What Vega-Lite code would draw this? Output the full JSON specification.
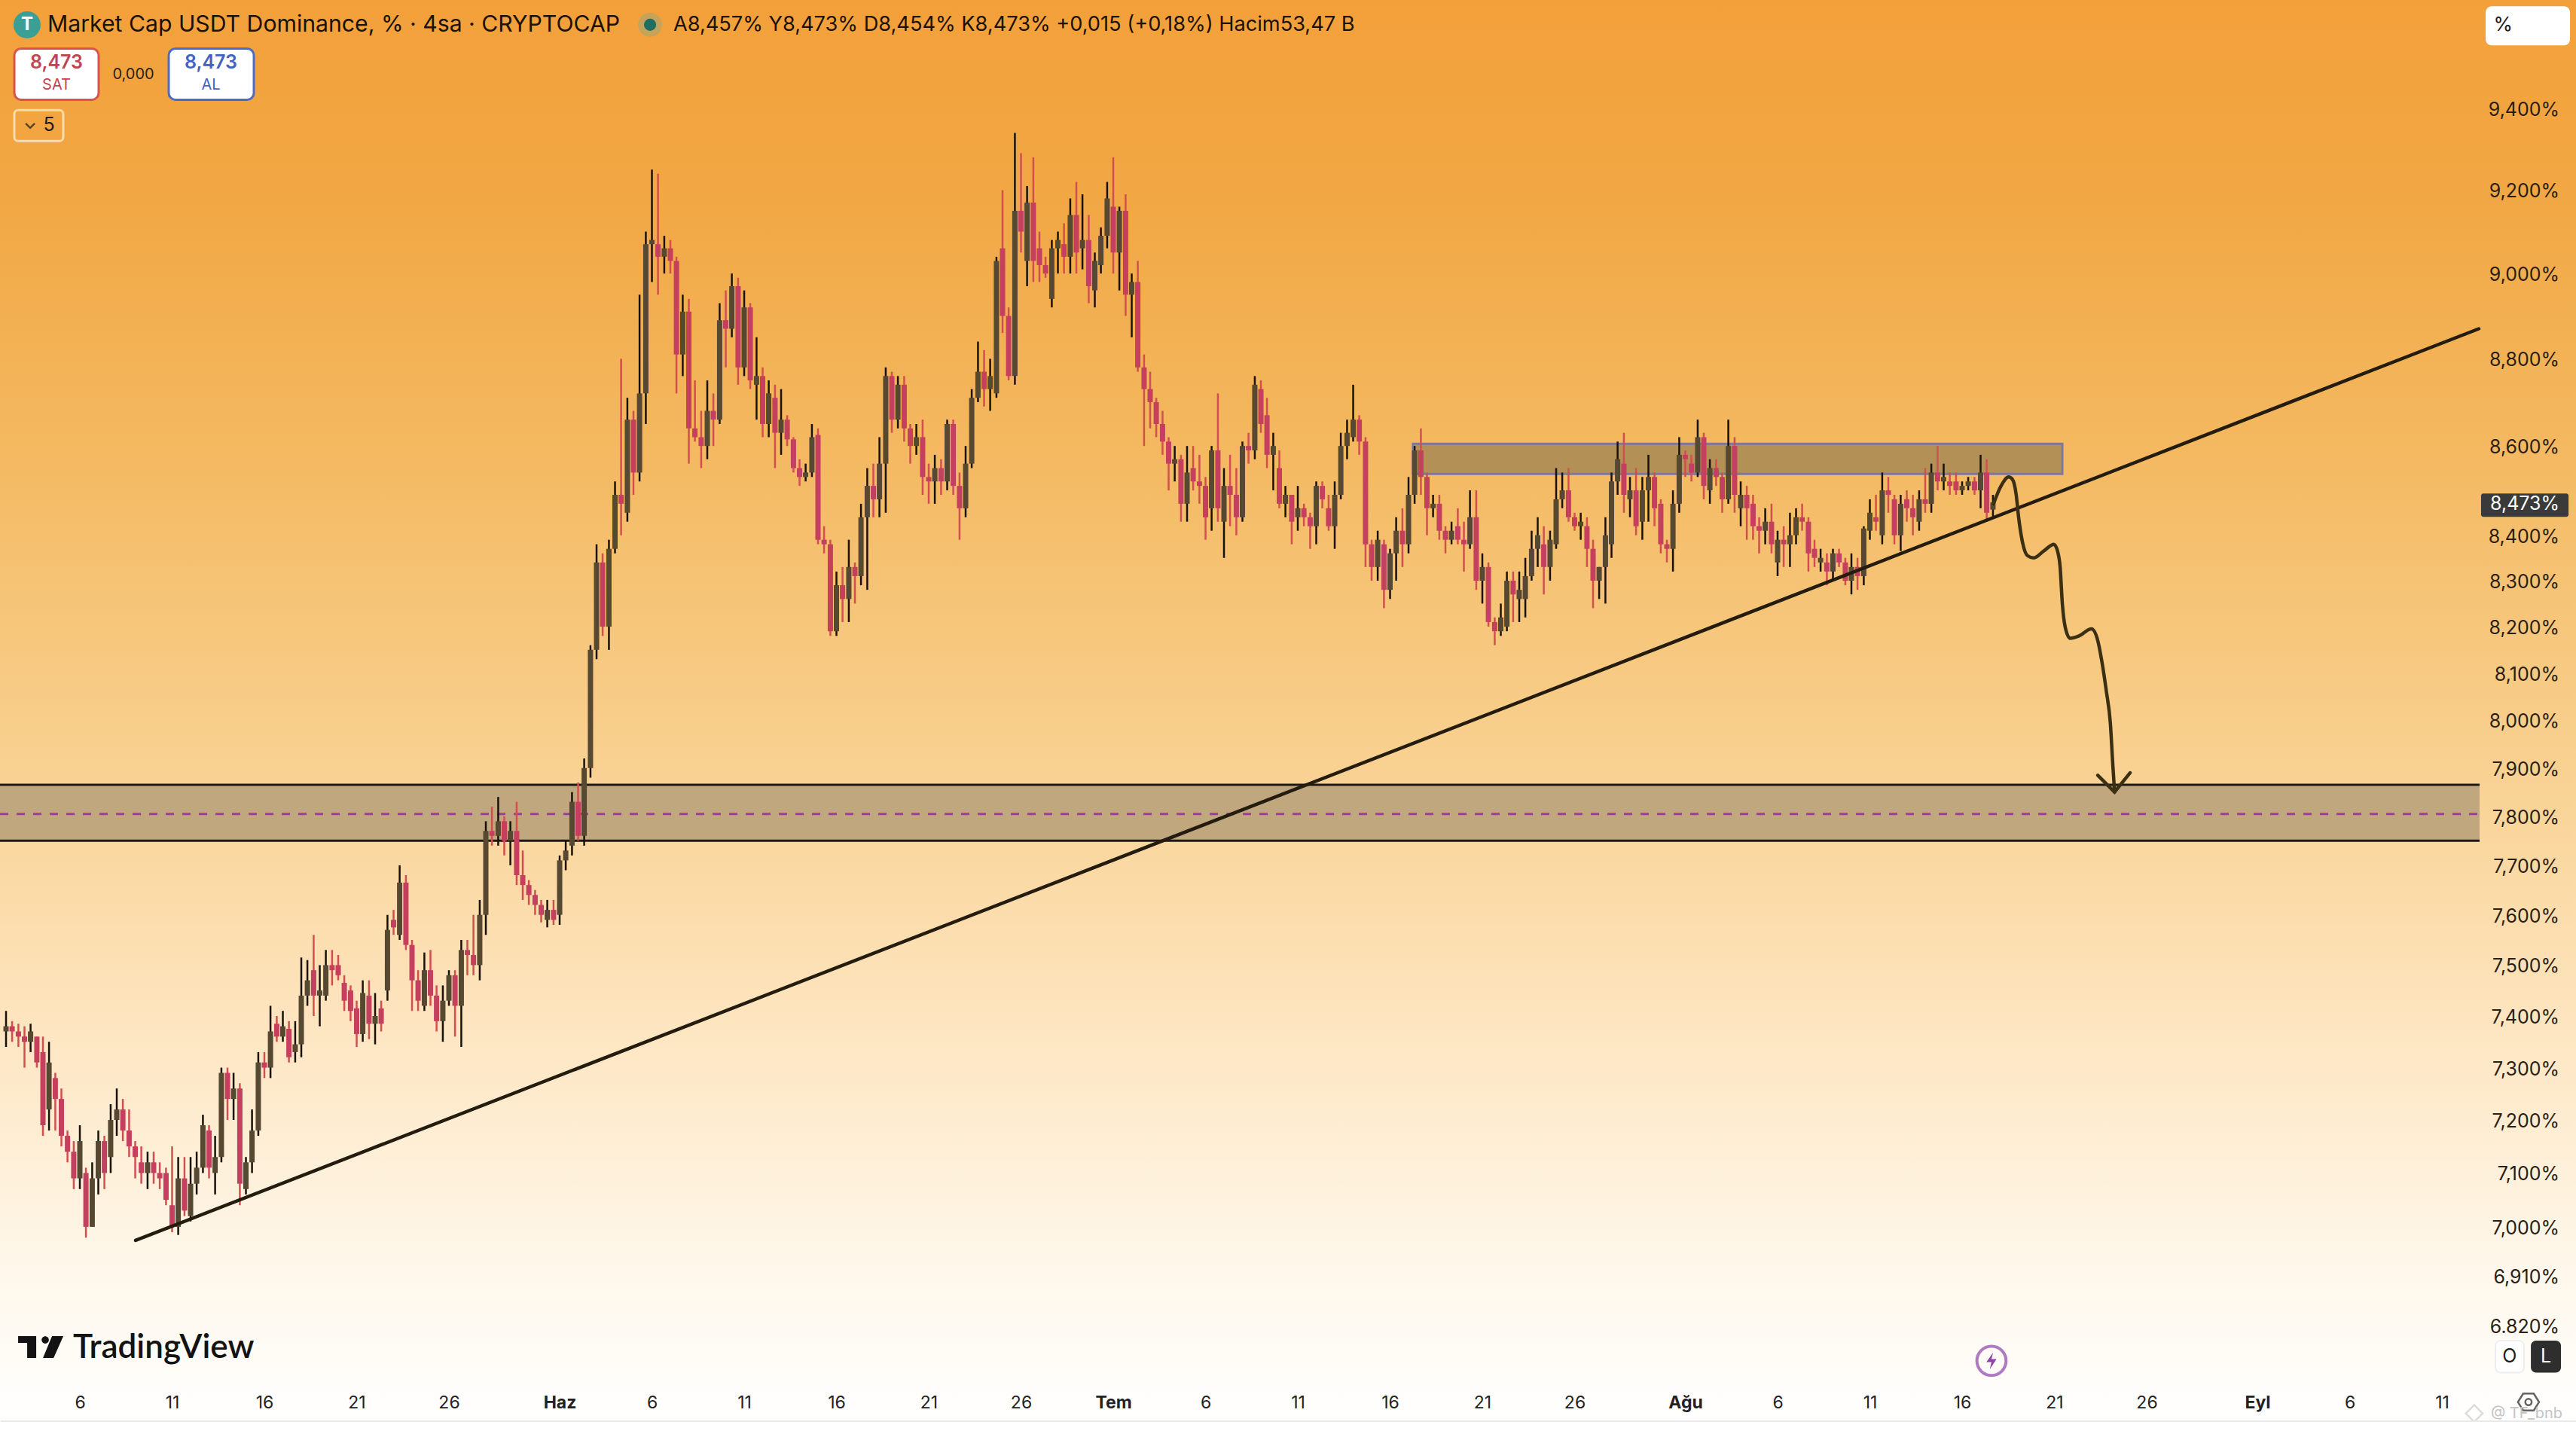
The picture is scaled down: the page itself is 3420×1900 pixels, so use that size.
{
"$schema":"https://vega.github.io/schema/vega-lite/v6.json",
"width":3420,"height":1888,"padding":0,"autosize":{"type":"none"},"background":"#ffffff",
"config":{"view":{"stroke":null},"text":{"font":"Inter"}},
"datasets":{"candles":[
{"d":2,"o":7.37,"h":7.41,"l":7.34,"c":7.38},{"d":2.33,"o":7.38,"h":7.39,"l":7.35,"c":7.37},{"d":2.67,"o":7.37,"h":7.385,"l":7.34,"c":7.36},
{"d":3,"o":7.36,"h":7.38,"l":7.3,"c":7.35},{"d":3.33,"o":7.35,"h":7.385,"l":7.33,"c":7.37},{"d":3.67,"o":7.36,"h":7.36,"l":7.3,"c":7.31},
{"d":4,"o":7.33,"h":7.36,"l":7.17,"c":7.19},{"d":4.33,"o":7.22,"h":7.35,"l":7.18,"c":7.31},{"d":4.67,"o":7.28,"h":7.29,"l":7.18,"c":7.24},
{"d":5,"o":7.24,"h":7.26,"l":7.15,"c":7.17},{"d":5.33,"o":7.17,"h":7.18,"l":7.12,"c":7.14},{"d":5.67,"o":7.14,"h":7.16,"l":7.07,"c":7.09},
{"d":6,"o":7.09,"h":7.19,"l":7.07,"c":7.16},{"d":6.33,"o":7.1,"h":7.11,"l":6.98,"c":7},{"d":6.67,"o":7,"h":7.12,"l":7,"c":7.09},
{"d":7,"o":7.09,"h":7.18,"l":7.06,"c":7.16},{"d":7.33,"o":7.16,"h":7.17,"l":7.07,"c":7.1},{"d":7.67,"o":7.13,"h":7.23,"l":7.1,"c":7.2},
{"d":8,"o":7.2,"h":7.26,"l":7.17,"c":7.22},{"d":8.33,"o":7.22,"h":7.24,"l":7.16,"c":7.18},{"d":8.67,"o":7.18,"h":7.22,"l":7.13,"c":7.15},
{"d":9,"o":7.15,"h":7.16,"l":7.09,"c":7.13},{"d":9.33,"o":7.12,"h":7.15,"l":7.08,"c":7.1},{"d":9.67,"o":7.1,"h":7.14,"l":7.07,"c":7.12},
{"d":10,"o":7.12,"h":7.14,"l":7.08,"c":7.1},{"d":10.33,"o":7.1,"h":7.12,"l":7.07,"c":7.09},{"d":10.67,"o":7.1,"h":7.11,"l":7.04,"c":7.05},
{"d":11,"o":7.04,"h":7.15,"l":6.99,"c":7},{"d":11.33,"o":7,"h":7.13,"l":6.985,"c":7.09},{"d":11.67,"o":7.09,"h":7.13,"l":7.02,"c":7.03},
{"d":12,"o":7.02,"h":7.13,"l":7.01,"c":7.08},{"d":12.33,"o":7.08,"h":7.14,"l":7.06,"c":7.11},{"d":12.67,"o":7.11,"h":7.21,"l":7.1,"c":7.19},
{"d":13,"o":7.18,"h":7.19,"l":7.09,"c":7.11},{"d":13.33,"o":7.1,"h":7.17,"l":7.06,"c":7.13},{"d":13.67,"o":7.13,"h":7.3,"l":7.12,"c":7.29},
{"d":14,"o":7.29,"h":7.3,"l":7.2,"c":7.24},{"d":14.33,"o":7.24,"h":7.29,"l":7.2,"c":7.26},{"d":14.67,"o":7.26,"h":7.27,"l":7.04,"c":7.08},
{"d":15,"o":7.07,"h":7.13,"l":7.06,"c":7.12},{"d":15.33,"o":7.12,"h":7.22,"l":7.1,"c":7.18},{"d":15.67,"o":7.18,"h":7.33,"l":7.17,"c":7.31},
{"d":16,"o":7.31,"h":7.33,"l":7.28,"c":7.3},{"d":16.33,"o":7.3,"h":7.42,"l":7.28,"c":7.37},{"d":16.67,"o":7.385,"h":7.4,"l":7.35,"c":7.36},
{"d":17,"o":7.36,"h":7.41,"l":7.35,"c":7.38},{"d":17.33,"o":7.375,"h":7.39,"l":7.31,"c":7.32},{"d":17.67,"o":7.33,"h":7.39,"l":7.31,"c":7.345},
{"d":18,"o":7.345,"h":7.515,"l":7.32,"c":7.44},{"d":18.33,"o":7.44,"h":7.51,"l":7.42,"c":7.47},{"d":18.67,"o":7.49,"h":7.56,"l":7.4,"c":7.44},
{"d":19,"o":7.44,"h":7.5,"l":7.38,"c":7.45},{"d":19.33,"o":7.44,"h":7.53,"l":7.43,"c":7.5},{"d":19.67,"o":7.5,"h":7.53,"l":7.46,"c":7.49},
{"d":20,"o":7.5,"h":7.52,"l":7.47,"c":7.48},{"d":20.33,"o":7.465,"h":7.48,"l":7.41,"c":7.43},{"d":20.67,"o":7.45,"h":7.46,"l":7.39,"c":7.41},
{"d":21,"o":7.415,"h":7.43,"l":7.34,"c":7.365},{"d":21.33,"o":7.365,"h":7.47,"l":7.35,"c":7.445},{"d":21.67,"o":7.44,"h":7.47,"l":7.355,"c":7.385},
{"d":22,"o":7.385,"h":7.445,"l":7.345,"c":7.4},{"d":22.33,"o":7.415,"h":7.43,"l":7.37,"c":7.385},{"d":22.67,"o":7.45,"h":7.6,"l":7.43,"c":7.57},
{"d":23,"o":7.59,"h":7.61,"l":7.56,"c":7.575},{"d":23.33,"o":7.56,"h":7.7,"l":7.55,"c":7.665},{"d":23.67,"o":7.665,"h":7.68,"l":7.53,"c":7.54},
{"d":24,"o":7.54,"h":7.55,"l":7.41,"c":7.47},{"d":24.33,"o":7.47,"h":7.49,"l":7.41,"c":7.43},{"d":24.67,"o":7.42,"h":7.525,"l":7.41,"c":7.49},
{"d":25,"o":7.49,"h":7.53,"l":7.42,"c":7.44},{"d":25.33,"o":7.44,"h":7.46,"l":7.37,"c":7.39},{"d":25.67,"o":7.39,"h":7.46,"l":7.35,"c":7.43},
{"d":26,"o":7.43,"h":7.49,"l":7.42,"c":7.48},{"d":26.33,"o":7.48,"h":7.49,"l":7.36,"c":7.42},{"d":26.67,"o":7.42,"h":7.55,"l":7.34,"c":7.53},
{"d":27,"o":7.53,"h":7.55,"l":7.48,"c":7.52},{"d":27.33,"o":7.52,"h":7.6,"l":7.48,"c":7.5},{"d":27.67,"o":7.5,"h":7.63,"l":7.47,"c":7.6},
{"d":28,"o":7.6,"h":7.79,"l":7.56,"c":7.77},{"d":28.33,"o":7.77,"h":7.82,"l":7.74,"c":7.76},{"d":28.67,"o":7.76,"h":7.84,"l":7.74,"c":7.79},
{"d":29,"o":7.79,"h":7.8,"l":7.72,"c":7.75},{"d":29.33,"o":7.75,"h":7.79,"l":7.7,"c":7.77},{"d":29.67,"o":7.77,"h":7.83,"l":7.66,"c":7.68},
{"d":30,"o":7.68,"h":7.73,"l":7.63,"c":7.66},{"d":30.33,"o":7.66,"h":7.67,"l":7.62,"c":7.64},{"d":30.67,"o":7.64,"h":7.65,"l":7.6,"c":7.62},
{"d":31,"o":7.62,"h":7.63,"l":7.585,"c":7.6},{"d":31.33,"o":7.59,"h":7.63,"l":7.575,"c":7.61},{"d":31.67,"o":7.61,"h":7.63,"l":7.58,"c":7.59},
{"d":32,"o":7.6,"h":7.72,"l":7.58,"c":7.71},{"d":32.33,"o":7.71,"h":7.75,"l":7.69,"c":7.73},{"d":32.67,"o":7.74,"h":7.85,"l":7.72,"c":7.83},
{"d":33,"o":7.83,"h":7.87,"l":7.75,"c":7.76},{"d":33.33,"o":7.76,"h":7.92,"l":7.74,"c":7.9},{"d":33.67,"o":7.9,"h":8.16,"l":7.88,"c":8.15},
{"d":34,"o":8.15,"h":8.38,"l":8.13,"c":8.34},{"d":34.33,"o":8.34,"h":8.36,"l":8.18,"c":8.2},{"d":34.67,"o":8.2,"h":8.39,"l":8.15,"c":8.37},
{"d":35,"o":8.37,"h":8.52,"l":8.36,"c":8.49},{"d":35.33,"o":8.49,"h":8.8,"l":8.4,"c":8.47},{"d":35.67,"o":8.45,"h":8.71,"l":8.43,"c":8.66},
{"d":36,"o":8.66,"h":8.68,"l":8.49,"c":8.54},{"d":36.33,"o":8.54,"h":8.95,"l":8.52,"c":8.72},{"d":36.67,"o":8.72,"h":9.1,"l":8.65,"c":9.07},
{"d":37,"o":9.07,"h":9.25,"l":8.98,"c":9.08},{"d":37.33,"o":9.07,"h":9.24,"l":8.95,"c":9.04},{"d":37.67,"o":9.04,"h":9.09,"l":9,"c":9.06},
{"d":38,"o":9.06,"h":9.08,"l":9,"c":9.03},{"d":38.33,"o":9.03,"h":9.04,"l":8.72,"c":8.81},{"d":38.67,"o":8.81,"h":8.95,"l":8.76,"c":8.91},
{"d":39,"o":8.91,"h":8.94,"l":8.56,"c":8.64},{"d":39.33,"o":8.64,"h":8.75,"l":8.61,"c":8.62},{"d":39.67,"o":8.62,"h":8.68,"l":8.55,"c":8.6},
{"d":40,"o":8.6,"h":8.75,"l":8.57,"c":8.68},{"d":40.33,"o":8.68,"h":8.72,"l":8.6,"c":8.66},{"d":40.67,"o":8.66,"h":8.93,"l":8.65,"c":8.89},
{"d":41,"o":8.89,"h":8.96,"l":8.78,"c":8.87},{"d":41.33,"o":8.87,"h":9,"l":8.85,"c":8.97},{"d":41.67,"o":8.97,"h":8.99,"l":8.74,"c":8.78},
{"d":42,"o":8.78,"h":8.96,"l":8.76,"c":8.92},{"d":42.33,"o":8.92,"h":8.93,"l":8.73,"c":8.75},{"d":42.67,"o":8.74,"h":8.85,"l":8.66,"c":8.76},
{"d":43,"o":8.76,"h":8.78,"l":8.62,"c":8.65},{"d":43.33,"o":8.65,"h":8.75,"l":8.62,"c":8.72},{"d":43.67,"o":8.71,"h":8.74,"l":8.55,"c":8.63},
{"d":44,"o":8.63,"h":8.73,"l":8.58,"c":8.66},{"d":44.33,"o":8.66,"h":8.67,"l":8.6,"c":8.615},{"d":44.67,"o":8.615,"h":8.62,"l":8.54,"c":8.55},
{"d":45,"o":8.55,"h":8.57,"l":8.51,"c":8.53},{"d":45.33,"o":8.53,"h":8.56,"l":8.52,"c":8.54},{"d":45.67,"o":8.54,"h":8.65,"l":8.53,"c":8.62},
{"d":46,"o":8.625,"h":8.64,"l":8.38,"c":8.39},{"d":46.33,"o":8.39,"h":8.42,"l":8.36,"c":8.38},{"d":46.67,"o":8.38,"h":8.39,"l":8.18,"c":8.19},
{"d":47,"o":8.19,"h":8.32,"l":8.18,"c":8.29},{"d":47.33,"o":8.29,"h":8.33,"l":8.21,"c":8.26},{"d":47.67,"o":8.26,"h":8.39,"l":8.21,"c":8.33},
{"d":48,"o":8.33,"h":8.34,"l":8.25,"c":8.31},{"d":48.33,"o":8.31,"h":8.47,"l":8.29,"c":8.44},{"d":48.67,"o":8.44,"h":8.55,"l":8.28,"c":8.51},
{"d":49,"o":8.51,"h":8.56,"l":8.44,"c":8.48},{"d":49.33,"o":8.48,"h":8.62,"l":8.44,"c":8.56},{"d":49.67,"o":8.56,"h":8.78,"l":8.45,"c":8.76},
{"d":50,"o":8.76,"h":8.77,"l":8.63,"c":8.66},{"d":50.33,"o":8.66,"h":8.76,"l":8.64,"c":8.74},{"d":50.67,"o":8.74,"h":8.76,"l":8.61,"c":8.64},
{"d":51,"o":8.64,"h":8.65,"l":8.56,"c":8.6},{"d":51.33,"o":8.6,"h":8.65,"l":8.58,"c":8.62},{"d":51.67,"o":8.62,"h":8.66,"l":8.49,"c":8.53},
{"d":52,"o":8.53,"h":8.56,"l":8.47,"c":8.52},{"d":52.33,"o":8.52,"h":8.58,"l":8.47,"c":8.55},{"d":52.67,"o":8.55,"h":8.57,"l":8.49,"c":8.52},
{"d":53,"o":8.52,"h":8.66,"l":8.5,"c":8.65},{"d":53.33,"o":8.65,"h":8.66,"l":8.49,"c":8.51},{"d":53.67,"o":8.51,"h":8.54,"l":8.39,"c":8.46},
{"d":54,"o":8.46,"h":8.6,"l":8.44,"c":8.56},{"d":54.33,"o":8.56,"h":8.73,"l":8.55,"c":8.71},{"d":54.67,"o":8.71,"h":8.84,"l":8.7,"c":8.77},
{"d":55,"o":8.77,"h":8.82,"l":8.69,"c":8.73},{"d":55.33,"o":8.73,"h":8.8,"l":8.68,"c":8.76},{"d":55.67,"o":8.72,"h":9.04,"l":8.71,"c":9.03},
{"d":56,"o":9.06,"h":9.2,"l":8.86,"c":8.9},{"d":56.33,"o":8.9,"h":8.92,"l":8.75,"c":8.76},{"d":56.67,"o":8.76,"h":9.34,"l":8.74,"c":9.15},
{"d":57,"o":9.15,"h":9.29,"l":9.05,"c":9.1},{"d":57.33,"o":9.03,"h":9.21,"l":8.97,"c":9.17},{"d":57.67,"o":9.17,"h":9.28,"l":8.98,"c":9.03},
{"d":58,"o":9.06,"h":9.1,"l":8.98,"c":9.02},{"d":58.33,"o":9.02,"h":9.04,"l":8.99,"c":9},{"d":58.67,"o":8.94,"h":9.08,"l":8.92,"c":9.06},
{"d":59,"o":9.06,"h":9.1,"l":9,"c":9.08},{"d":59.33,"o":9.07,"h":9.12,"l":9,"c":9.04},{"d":59.67,"o":9.04,"h":9.18,"l":9,"c":9.14},
{"d":60,"o":9.14,"h":9.22,"l":9,"c":9.05},{"d":60.33,"o":9.06,"h":9.19,"l":9.01,"c":9.08},{"d":60.67,"o":9.08,"h":9.14,"l":8.93,"c":8.97},
{"d":61,"o":8.96,"h":9.05,"l":8.92,"c":9.03},{"d":61.33,"o":9.02,"h":9.11,"l":9,"c":9.09},{"d":61.67,"o":9.09,"h":9.22,"l":9.06,"c":9.18},
{"d":62,"o":9.16,"h":9.28,"l":9,"c":9.05},{"d":62.33,"o":9.05,"h":9.16,"l":8.96,"c":9.15},{"d":62.67,"o":9.15,"h":9.19,"l":8.9,"c":8.95},
{"d":63,"o":8.95,"h":9,"l":8.85,"c":8.98},{"d":63.33,"o":8.98,"h":9.03,"l":8.77,"c":8.78},{"d":63.67,"o":8.78,"h":8.81,"l":8.6,"c":8.73},
{"d":64,"o":8.73,"h":8.77,"l":8.64,"c":8.7},{"d":64.33,"o":8.7,"h":8.71,"l":8.62,"c":8.65},{"d":64.67,"o":8.65,"h":8.68,"l":8.58,"c":8.61},
{"d":65,"o":8.61,"h":8.62,"l":8.5,"c":8.56},{"d":65.33,"o":8.56,"h":8.6,"l":8.52,"c":8.57},{"d":65.67,"o":8.57,"h":8.58,"l":8.43,"c":8.47},
{"d":66,"o":8.47,"h":8.6,"l":8.43,"c":8.54},{"d":66.33,"o":8.55,"h":8.6,"l":8.5,"c":8.52},{"d":66.67,"o":8.52,"h":8.58,"l":8.47,"c":8.51},
{"d":67,"o":8.51,"h":8.53,"l":8.39,"c":8.44},{"d":67.33,"o":8.46,"h":8.6,"l":8.41,"c":8.59},{"d":67.67,"o":8.59,"h":8.72,"l":8.43,"c":8.46},
{"d":68,"o":8.43,"h":8.55,"l":8.35,"c":8.51},{"d":68.33,"o":8.51,"h":8.58,"l":8.42,"c":8.49},{"d":68.67,"o":8.49,"h":8.55,"l":8.4,"c":8.44},
{"d":69,"o":8.44,"h":8.61,"l":8.43,"c":8.6},{"d":69.33,"o":8.6,"h":8.63,"l":8.56,"c":8.59},{"d":69.67,"o":8.59,"h":8.76,"l":8.57,"c":8.74},
{"d":70,"o":8.73,"h":8.75,"l":8.63,"c":8.65},{"d":70.33,"o":8.67,"h":8.71,"l":8.55,"c":8.58},{"d":70.67,"o":8.58,"h":8.63,"l":8.5,"c":8.6},
{"d":71,"o":8.55,"h":8.59,"l":8.46,"c":8.47},{"d":71.33,"o":8.47,"h":8.51,"l":8.44,"c":8.49},{"d":71.67,"o":8.49,"h":8.49,"l":8.38,"c":8.43},
{"d":72,"o":8.44,"h":8.51,"l":8.41,"c":8.46},{"d":72.33,"o":8.46,"h":8.47,"l":8.42,"c":8.44},{"d":72.67,"o":8.44,"h":8.45,"l":8.37,"c":8.42},
{"d":73,"o":8.42,"h":8.52,"l":8.38,"c":8.51},{"d":73.33,"o":8.51,"h":8.52,"l":8.46,"c":8.48},{"d":73.67,"o":8.46,"h":8.49,"l":8.41,"c":8.42},
{"d":74,"o":8.42,"h":8.52,"l":8.37,"c":8.49},{"d":74.33,"o":8.49,"h":8.63,"l":8.48,"c":8.6},{"d":74.67,"o":8.6,"h":8.66,"l":8.57,"c":8.63},
{"d":75,"o":8.62,"h":8.74,"l":8.61,"c":8.66},{"d":75.33,"o":8.66,"h":8.67,"l":8.58,"c":8.61},{"d":75.67,"o":8.61,"h":8.62,"l":8.33,"c":8.38},
{"d":76,"o":8.38,"h":8.39,"l":8.3,"c":8.33},{"d":76.33,"o":8.33,"h":8.41,"l":8.3,"c":8.39},{"d":76.67,"o":8.38,"h":8.39,"l":8.24,"c":8.28},
{"d":77,"o":8.28,"h":8.37,"l":8.26,"c":8.36},{"d":77.33,"o":8.36,"h":8.44,"l":8.3,"c":8.41},{"d":77.67,"o":8.41,"h":8.46,"l":8.33,"c":8.38},
{"d":78,"o":8.38,"h":8.53,"l":8.36,"c":8.49},{"d":78.33,"o":8.49,"h":8.6,"l":8.47,"c":8.59},{"d":78.67,"o":8.59,"h":8.64,"l":8.49,"c":8.53},
{"d":79,"o":8.53,"h":8.54,"l":8.4,"c":8.46},{"d":79.33,"o":8.46,"h":8.49,"l":8.44,"c":8.47},{"d":79.67,"o":8.47,"h":8.49,"l":8.39,"c":8.41},
{"d":80,"o":8.41,"h":8.42,"l":8.36,"c":8.39},{"d":80.33,"o":8.39,"h":8.43,"l":8.38,"c":8.41},{"d":80.67,"o":8.42,"h":8.46,"l":8.38,"c":8.39},
{"d":81,"o":8.39,"h":8.43,"l":8.32,"c":8.38},{"d":81.33,"o":8.38,"h":8.5,"l":8.37,"c":8.44},{"d":81.67,"o":8.44,"h":8.5,"l":8.28,"c":8.3},
{"d":82,"o":8.3,"h":8.36,"l":8.25,"c":8.33},{"d":82.33,"o":8.33,"h":8.34,"l":8.2,"c":8.21},{"d":82.67,"o":8.21,"h":8.22,"l":8.16,"c":8.19},
{"d":83,"o":8.19,"h":8.25,"l":8.18,"c":8.22},{"d":83.33,"o":8.2,"h":8.32,"l":8.19,"c":8.3},{"d":83.67,"o":8.3,"h":8.32,"l":8.21,"c":8.27},
{"d":84,"o":8.26,"h":8.32,"l":8.21,"c":8.28},{"d":84.33,"o":8.26,"h":8.35,"l":8.22,"c":8.31},{"d":84.67,"o":8.31,"h":8.41,"l":8.3,"c":8.37},
{"d":85,"o":8.37,"h":8.44,"l":8.33,"c":8.4},{"d":85.33,"o":8.38,"h":8.42,"l":8.27,"c":8.33},{"d":85.67,"o":8.33,"h":8.41,"l":8.3,"c":8.39},
{"d":86,"o":8.38,"h":8.55,"l":8.37,"c":8.48},{"d":86.33,"o":8.48,"h":8.54,"l":8.46,"c":8.5},{"d":86.67,"o":8.5,"h":8.55,"l":8.43,"c":8.44},
{"d":87,"o":8.44,"h":8.45,"l":8.41,"c":8.42},{"d":87.33,"o":8.42,"h":8.45,"l":8.39,"c":8.43},{"d":87.67,"o":8.42,"h":8.44,"l":8.33,"c":8.37},
{"d":88,"o":8.37,"h":8.39,"l":8.24,"c":8.3},{"d":88.33,"o":8.3,"h":8.33,"l":8.26,"c":8.33},{"d":88.67,"o":8.33,"h":8.44,"l":8.25,"c":8.4},
{"d":89,"o":8.38,"h":8.54,"l":8.35,"c":8.52},{"d":89.33,"o":8.52,"h":8.61,"l":8.49,"c":8.57},{"d":89.67,"o":8.56,"h":8.63,"l":8.45,"c":8.49},
{"d":90,"o":8.48,"h":8.53,"l":8.44,"c":8.5},{"d":90.33,"o":8.5,"h":8.55,"l":8.4,"c":8.42},{"d":90.67,"o":8.43,"h":8.53,"l":8.39,"c":8.5},
{"d":91,"o":8.5,"h":8.58,"l":8.43,"c":8.53},{"d":91.33,"o":8.53,"h":8.54,"l":8.42,"c":8.46},{"d":91.67,"o":8.47,"h":8.48,"l":8.36,"c":8.38},
{"d":92,"o":8.38,"h":8.39,"l":8.34,"c":8.37},{"d":92.33,"o":8.37,"h":8.5,"l":8.32,"c":8.47},{"d":92.67,"o":8.47,"h":8.62,"l":8.45,"c":8.58},
{"d":93,"o":8.58,"h":8.59,"l":8.53,"c":8.57},{"d":93.33,"o":8.56,"h":8.58,"l":8.52,"c":8.54},{"d":93.67,"o":8.54,"h":8.66,"l":8.53,"c":8.62},
{"d":94,"o":8.62,"h":8.63,"l":8.48,"c":8.51},{"d":94.33,"o":8.5,"h":8.57,"l":8.47,"c":8.55},{"d":94.67,"o":8.55,"h":8.57,"l":8.51,"c":8.53},
{"d":95,"o":8.53,"h":8.54,"l":8.45,"c":8.48},{"d":95.33,"o":8.48,"h":8.66,"l":8.47,"c":8.6},{"d":95.67,"o":8.6,"h":8.62,"l":8.45,"c":8.49},
{"d":96,"o":8.46,"h":8.52,"l":8.42,"c":8.49},{"d":96.33,"o":8.49,"h":8.51,"l":8.39,"c":8.46},{"d":96.67,"o":8.47,"h":8.49,"l":8.39,"c":8.42},
{"d":97,"o":8.42,"h":8.44,"l":8.36,"c":8.41},{"d":97.33,"o":8.41,"h":8.46,"l":8.38,"c":8.43},{"d":97.67,"o":8.43,"h":8.47,"l":8.36,"c":8.38},
{"d":98,"o":8.34,"h":8.41,"l":8.31,"c":8.39},{"d":98.33,"o":8.39,"h":8.42,"l":8.33,"c":8.38},{"d":98.67,"o":8.38,"h":8.45,"l":8.33,"c":8.4},
{"d":99,"o":8.4,"h":8.46,"l":8.38,"c":8.44},{"d":99.33,"o":8.44,"h":8.47,"l":8.41,"c":8.43},{"d":99.67,"o":8.43,"h":8.44,"l":8.32,"c":8.36},
{"d":100,"o":8.37,"h":8.39,"l":8.33,"c":8.35},{"d":100.33,"o":8.34,"h":8.37,"l":8.32,"c":8.35},{"d":100.67,"o":8.34,"h":8.36,"l":8.29,"c":8.32},
{"d":101,"o":8.32,"h":8.37,"l":8.3,"c":8.36},{"d":101.33,"o":8.36,"h":8.37,"l":8.33,"c":8.34},{"d":101.67,"o":8.34,"h":8.35,"l":8.29,"c":8.3},
{"d":102,"o":8.3,"h":8.36,"l":8.27,"c":8.33},{"d":102.33,"o":8.33,"h":8.35,"l":8.28,"c":8.31},{"d":102.67,"o":8.31,"h":8.42,"l":8.29,"c":8.415},
{"d":103,"o":8.41,"h":8.48,"l":8.39,"c":8.45},{"d":103.33,"o":8.44,"h":8.49,"l":8.41,"c":8.43},{"d":103.67,"o":8.4,"h":8.54,"l":8.38,"c":8.5},
{"d":104,"o":8.5,"h":8.53,"l":8.45,"c":8.49},{"d":104.33,"o":8.48,"h":8.49,"l":8.38,"c":8.4},{"d":104.67,"o":8.4,"h":8.49,"l":8.365,"c":8.47},
{"d":105,"o":8.48,"h":8.5,"l":8.43,"c":8.46},{"d":105.33,"o":8.46,"h":8.49,"l":8.4,"c":8.44},{"d":105.67,"o":8.43,"h":8.5,"l":8.41,"c":8.48},
{"d":106,"o":8.48,"h":8.55,"l":8.45,"c":8.47},{"d":106.33,"o":8.47,"h":8.56,"l":8.45,"c":8.54},{"d":106.67,"o":8.54,"h":8.6,"l":8.5,"c":8.52},
{"d":107,"o":8.52,"h":8.56,"l":8.5,"c":8.53},{"d":107.33,"o":8.52,"h":8.54,"l":8.49,"c":8.51},{"d":107.67,"o":8.52,"h":8.54,"l":8.49,"c":8.5},
{"d":108,"o":8.5,"h":8.52,"l":8.49,"c":8.51},{"d":108.33,"o":8.51,"h":8.53,"l":8.5,"c":8.52},{"d":108.67,"o":8.52,"h":8.53,"l":8.49,"c":8.5},
{"d":109,"o":8.5,"h":8.58,"l":8.46,"c":8.54},{"d":109.33,"o":8.54,"h":8.57,"l":8.43,"c":8.45},{"d":109.67,"o":8.457,"h":8.49,"l":8.44,"c":8.473}
]},
"encoding":{
"x":{"field":"d","type":"quantitative","scale":{"domain":[1.673,141.265],"nice":false,"zero":false,"padding":0},"axis":{"title":null,"orient":"bottom","grid":false,"ticks":false,"domainColor":"#e9e9e9","domainWidth":5,"labelPadding":-26,"labelBaseline":"middle","labelFont":"Inter","labelFontSize":23,"labelColor":"#222222","labelOverlap":false,"labelFlush":false,"values":[6,11,16,21,26,32,37,42,47,52,57,62,67,72,77,82,87,93,98,103,108,113,118,124,129,134],"labelExpr":"datum.value==32?'Haz':datum.value==62?'Tem':datum.value==93?'Ağu':datum.value==124?'Eyl':''+(datum.value<32?datum.value:datum.value<62?datum.value-31:datum.value<93?datum.value-61:datum.value<124?datum.value-92:datum.value-123)","labelFontWeight":{"condition":{"test":"datum.value==32||datum.value==62||datum.value==93||datum.value==124","value":700},"value":400},"zindex":1}},
"y":{"field":"v","type":"quantitative","scale":{"type":"log","domain":[6.649,9.673],"nice":false,"zero":false,"padding":0},"axis":null}
},
"layer":[
{"data":{"values":[{"d":1.673,"d2":141.265,"v":6.649,"v2":9.673}]},"mark":{"type":"rect","fill":{"gradient":"linear","x1":0,"y1":0,"x2":0,"y2":1,"stops":[{"offset":0,"color":"#f3a03a"},{"offset":0.15,"color":"#f1a845"},{"offset":0.33,"color":"#f4ba63"},{"offset":0.53,"color":"#f8d08f"},{"offset":0.7,"color":"#fde3bb"},{"offset":0.88,"color":"#fef6e8"},{"offset":1,"color":"#ffffff"}]}},"encoding":{"x2":{"field":"d2"},"y2":{"field":"v2"}}},
{"data":{"values":[{"d":1.673,"d2":136.04,"v":7.75,"v2":7.865}]},"mark":{"type":"rect","color":"#c1a77e"},"encoding":{"x2":{"field":"d2"},"y2":{"field":"v2"}}},
{"data":{"values":[{"d":1.673,"d2":136.04,"v":7.75},{"d":1.673,"d2":136.04,"v":7.865}]},"mark":{"type":"rule","color":"#1c1a14","strokeWidth":3},"encoding":{"x2":{"field":"d2"}}},
{"data":{"values":[{"d":1.673,"d2":136.04,"v":7.805}]},"mark":{"type":"rule","color":"#9a3fa0","strokeWidth":3,"strokeDash":[11,11]},"encoding":{"x2":{"field":"d2"}}},
{"data":{"values":[{"d":78.24,"d2":113.43,"v":8.537,"v2":8.605}]},"mark":{"type":"rect","color":"#b39055","stroke":"#7b7a9a","strokeWidth":3},"encoding":{"x2":{"field":"d2"},"y2":{"field":"v2"}}},
{"data":{"name":"candles"},"mark":{"type":"rule","strokeWidth":2.5},"encoding":{"y":{"field":"l","type":"quantitative","axis":null},"y2":{"field":"h"},"color":{"condition":{"test":"datum.c>=datum.o","value":"#1a120a"},"value":"#d24f50"}}},
{"data":{"name":"candles"},"mark":{"type":"bar","size":7,"orient":"vertical"},"encoding":{"y":{"field":"o","type":"quantitative","axis":null},"y2":{"field":"c"},"color":{"condition":{"test":"datum.c>=datum.o","value":"#574832"},"value":"#c4405e"}}},
{"data":{"values":[{"d":9.02,"v":6.975},{"d":136,"v":8.87}]},"mark":{"type":"line","color":"#231c0f","strokeWidth":4.5,"strokeCap":"round"}},
{"data":{"values":[{"d":109.7,"v":8.47},{"d":110.11,"v":8.51},{"d":110.52,"v":8.53},{"d":110.72,"v":8.525},{"d":110.93,"v":8.49},{"d":111.06,"v":8.44},{"d":111.27,"v":8.385},{"d":111.54,"v":8.355},{"d":111.88,"v":8.35},{"d":112.42,"v":8.365},{"d":112.97,"v":8.38},{"d":113.17,"v":8.365},{"d":113.31,"v":8.33},{"d":113.43,"v":8.25},{"d":113.58,"v":8.2},{"d":113.85,"v":8.175},{"d":114.33,"v":8.18},{"d":115.01,"v":8.195},{"d":115.35,"v":8.17},{"d":115.55,"v":8.13},{"d":115.82,"v":8.06},{"d":116.03,"v":7.995},{"d":116.16,"v":7.91},{"d":116.26,"v":7.85}]},"mark":{"type":"line","color":"#3b3012","strokeWidth":4.5,"interpolate":"monotone","strokeCap":"round"}},
{"data":{"values":[{"d":115.35,"v":7.885},{"d":116.26,"v":7.85},{"d":117.1,"v":7.89}]},"mark":{"type":"line","color":"#3b3012","strokeWidth":4.5,"strokeCap":"round"}},
{"data":{"values":[{"d":136.12,"d2":140.86,"v":8.441,"v2":8.493}]},"mark":{"type":"rect","color":"#3a3a3a","cornerRadius":3},"encoding":{"x2":{"field":"d2"},"y2":{"field":"v2"}}},
{"data":{"values":[{"d":138.49,"v":8.473,"t":"8,473%"}]},"mark":{"type":"text","color":"#ffffff","fontSize":25,"dy":2},"encoding":{"text":{"field":"t"}}},
{"data":{"values":[{"d":140.37,"v":9.4,"t":"9,400%"},{"d":140.37,"v":9.2,"t":"9,200%"},{"d":140.37,"v":9,"t":"9,000%"},{"d":140.37,"v":8.8,"t":"8,800%"},{"d":140.37,"v":8.6,"t":"8,600%"},{"d":140.37,"v":8.4,"t":"8,400%"},{"d":140.37,"v":8.3,"t":"8,300%"},{"d":140.37,"v":8.2,"t":"8,200%"},{"d":140.37,"v":8.1,"t":"8,100%"},{"d":140.37,"v":8,"t":"8,000%"},{"d":140.37,"v":7.9,"t":"7,900%"},{"d":140.37,"v":7.8,"t":"7,800%"},{"d":140.37,"v":7.7,"t":"7,700%"},{"d":140.37,"v":7.6,"t":"7,600%"},{"d":140.37,"v":7.5,"t":"7,500%"},{"d":140.37,"v":7.4,"t":"7,400%"},{"d":140.37,"v":7.3,"t":"7,300%"},{"d":140.37,"v":7.2,"t":"7,200%"},{"d":140.37,"v":7.1,"t":"7,100%"},{"d":140.37,"v":7,"t":"7,000%"},{"d":140.37,"v":6.91,"t":"6,910%"},{"d":140.37,"v":6.82,"t":"6.820%"}]},"mark":{"type":"text","align":"right","color":"#2a1d12","fontSize":25,"dy":2},"encoding":{"text":{"field":"t"}}},
{"data":{"values":[{"d":136.37,"d2":140.94,"v":9.558,"v2":9.657}]},"mark":{"type":"rect","color":"#ffffff","cornerRadius":8},"encoding":{"x2":{"field":"d2"},"y2":{"field":"v2"}}},
{"data":{"values":[{"d":136.8,"v":9.61,"t":"%"}]},"mark":{"type":"text","align":"left","color":"#1c1c1c","fontSize":26},"encoding":{"text":{"field":"t"}}},
{"data":{"values":[{"d":2.449,"d2":7.02,"v":9.422,"v2":9.55}]},"mark":{"type":"rect","fill":"#ffffff","stroke":"#d9534f","strokeWidth":3,"cornerRadius":9},"encoding":{"x2":{"field":"d2"},"y2":{"field":"v2"}}},
{"data":{"values":[{"d":10.816,"d2":15.43,"v":9.422,"v2":9.55}]},"mark":{"type":"rect","fill":"#ffffff","stroke":"#4a6cc9","strokeWidth":3,"cornerRadius":9},"encoding":{"x2":{"field":"d2"},"y2":{"field":"v2"}}},
{"data":{"values":[{"d":2.449,"d2":5.1,"v":9.32,"v2":9.396}]},"mark":{"type":"rect","fillOpacity":0,"stroke":"#f9dcae","strokeWidth":3,"cornerRadius":5},"encoding":{"x2":{"field":"d2"},"y2":{"field":"v2"}}},
{"data":{"values":[{"d":4.735,"v":9.515,"t":"8,473"}]},"mark":{"type":"text","color":"#c0434f","fontSize":25,"fontWeight":600},"encoding":{"text":{"field":"t"}}},
{"data":{"values":[{"d":4.735,"v":9.458,"t":"SAT"}]},"mark":{"type":"text","color":"#c0434f","fontSize":20},"encoding":{"text":{"field":"t"}}},
{"data":{"values":[{"d":13.1,"v":9.515,"t":"8,473"}]},"mark":{"type":"text","color":"#3f62c4","fontSize":25,"fontWeight":600},"encoding":{"text":{"field":"t"}}},
{"data":{"values":[{"d":13.1,"v":9.458,"t":"AL"}]},"mark":{"type":"text","color":"#3f62c4","fontSize":20},"encoding":{"text":{"field":"t"}}},
{"data":{"values":[{"d":8.9,"v":9.484,"t":"0,000"}]},"mark":{"type":"text","color":"#2a2015","fontSize":20},"encoding":{"text":{"field":"t"}}},
{"data":{"values":[{"d":3.31,"v":9.359}]},"mark":{"type":"point","shape":"M-1 -0.4L0 0.6L1 -0.4","filled":false,"stroke":"#1c1c1c","strokeWidth":2.5,"size":144}},
{"data":{"values":[{"d":4.33,"v":9.359,"t":"5"}]},"mark":{"type":"text","color":"#1c1c1c","fontSize":25},"encoding":{"text":{"field":"t"}}},
{"data":{"values":[{"d":3.14,"v":9.61}]},"mark":{"type":"point","shape":"circle","filled":true,"fill":"#3a9f94","opacity":1,"size":1296}},
{"data":{"values":[{"d":3.14,"v":9.61,"t":"T"}]},"mark":{"type":"text","color":"#ffffff","fontSize":24,"fontWeight":700},"encoding":{"text":{"field":"t"}}},
{"data":{"values":[{"d":4.245,"v":9.61,"t":"Market Cap USDT Dominance, % · 4sa · CRYPTOCAP"}]},"mark":{"type":"text","align":"left","color":"#1a1208","fontSize":30.2},"encoding":{"text":{"field":"t"}}},
{"data":{"values":[{"d":36.9,"v":9.61}]},"mark":{"type":"point","shape":"circle","filled":true,"fill":"#c5a35a","opacity":1,"size":1000}},
{"data":{"values":[{"d":36.9,"v":9.61}]},"mark":{"type":"point","shape":"circle","filled":true,"fill":"#1f6e60","opacity":1,"size":260}},
{"data":{"values":[{"d":38.16,"v":9.61,"t":"A8,457%  Y8,473%  D8,454%  K8,473%  +0,015 (+0,18%)  Hacim53,47 B"}]},"mark":{"type":"text","align":"left","color":"#1a1208","fontSize":27.2},"encoding":{"text":{"field":"t"}}},
{"data":{"values":[{"d":3.88,"v":6.781}]},"mark":{"type":"point","shape":"M-1 -0.5H-0.2V0.47H-0.6V-0.2H-1Z M0.04 -0.33A0.16 0.16 0 1 0 0.36 -0.33A0.16 0.16 0 1 0 0.04 -0.33Z M0.5 -0.5H1L0.57 0.47H0.1Z","filled":true,"fill":"#131313","opacity":1,"size":3600}},
{"data":{"values":[{"d":5.63,"v":6.78,"t":"TradingView"}]},"mark":{"type":"text","align":"left","color":"#131313","fontSize":44,"fontWeight":600,"font":"Lato"},"encoding":{"text":{"field":"t"}}},
{"data":{"values":[{"d":109.59,"v":6.757}]},"mark":{"type":"point","shape":"circle","filled":false,"stroke":"#8e44ad","strokeWidth":4,"size":1500}},
{"data":{"values":[{"d":109.59,"v":6.757}]},"mark":{"type":"point","shape":"M0.2 -1L-0.6 0.15H0L-0.2 1L0.6 -0.2H0Z","filled":true,"fill":"#8e44ad","opacity":1,"size":500}},
{"data":{"values":[{"d":136.9,"d2":138.45,"v":6.736,"v2":6.793}]},"mark":{"type":"rect","fill":"#ffffff","stroke":"#eeeeee","strokeWidth":2,"cornerRadius":7},"encoding":{"x2":{"field":"d2"},"y2":{"field":"v2"}}},
{"data":{"values":[{"d":138.82,"d2":140.45,"v":6.736,"v2":6.793}]},"mark":{"type":"rect","color":"#2e2e2e","cornerRadius":7},"encoding":{"x2":{"field":"d2"},"y2":{"field":"v2"}}},
{"data":{"values":[{"d":137.67,"v":6.765,"t":"O"}]},"mark":{"type":"text","color":"#1c1c1c","fontSize":25},"encoding":{"text":{"field":"t"}}},
{"data":{"values":[{"d":139.63,"v":6.765,"t":"L"}]},"mark":{"type":"text","color":"#ffffff","fontSize":25},"encoding":{"text":{"field":"t"}}},
{"data":{"values":[{"d":138.69,"v":6.684}]},"mark":{"type":"point","shape":"M-0.5 -0.8L0.5 -0.8L1 0L0.5 0.8L-0.5 0.8L-1 0Z M-0.3 0A0.3 0.3 0 1 0 0.3 0A0.3 0.3 0 1 0 -0.3 0Z","filled":false,"stroke":"#222222","strokeWidth":2.5,"size":784}},
{"data":{"values":[{"d":135.75,"v":6.664}]},"mark":{"type":"point","shape":"diamond","filled":false,"stroke":"#cfcfcf","strokeWidth":2.5,"size":500}},
{"data":{"values":[{"d":136.65,"v":6.664,"t":"@ TF_bnb"}]},"mark":{"type":"text","align":"left","color":"#c4c4c4","fontSize":20},"encoding":{"text":{"field":"t"}}}
]
}
